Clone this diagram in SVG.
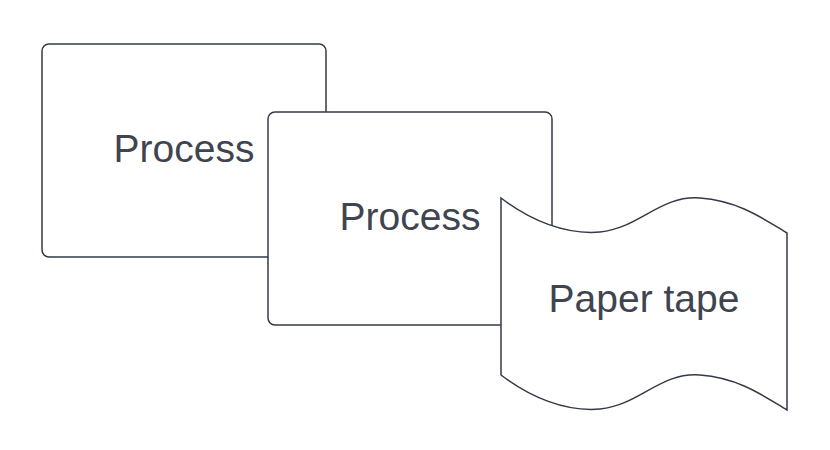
<svg xmlns="http://www.w3.org/2000/svg" width="830" height="450" viewBox="0 0 830 450">
<style>
.s{fill:#fff;stroke:#333a45;stroke-width:1.5}
.t{font-family:"Liberation Sans",Arial,sans-serif;font-size:39px;fill:#3f4550;text-anchor:middle;dominant-baseline:central}
</style>
<rect width="830" height="450" fill="#fff"/>
<g id="process1"><rect class="s" x="42" y="44" width="284" height="213" rx="7"/><text class="t" x="184" y="148">Process</text></g>
<g id="process2"><rect class="s" x="268" y="112" width="284" height="213" rx="7"/><text class="t" x="410" y="216">Process</text></g>
<g id="tape"><path class="s" d="M501,198 C530,220 565,235 600,232 C640,228 660,195 700,198 C740,201 765,220 787,233 L787,410 C765,397 740,378 700,375 C660,372 640,405 600,409 C565,412 530,397 501,375 Z"/><text class="t" x="644" y="298">Paper tape</text></g>
<g id="connectors"/>
</svg>
